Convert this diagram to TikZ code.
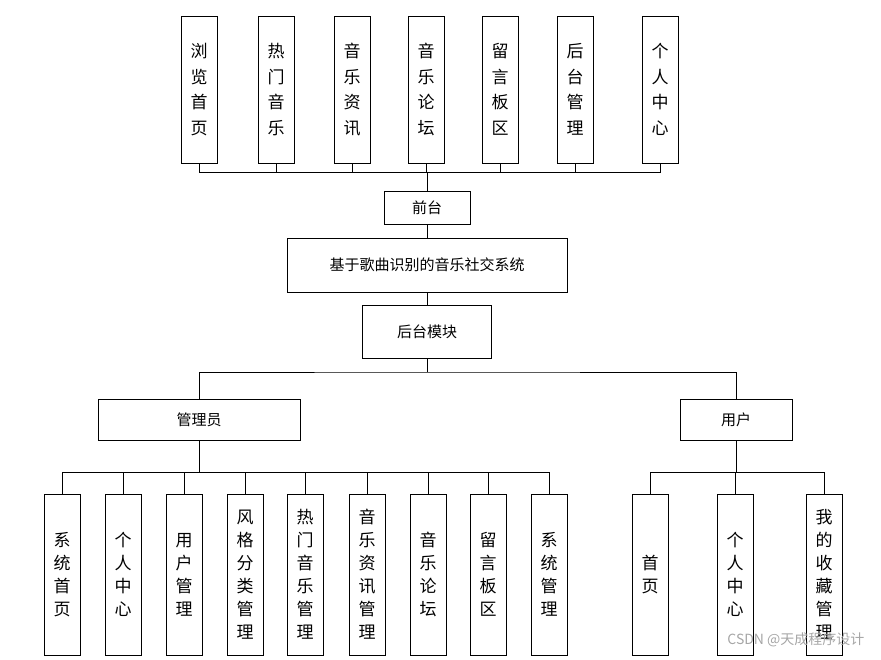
\documentclass[tikz,border=0pt]{standalone}
\usepackage{fontspec}
\setmainfont{Noto Sans CJK SC}
\begin{document}
\begin{tikzpicture}[x=1pt,y=-1pt,
  vbox/.style={draw,line width=0.8pt,minimum width=36pt,inner sep=0pt,align=center,font=\fontsize{17}{25.5}\selectfont},
  hbox/.style={draw,line width=0.8pt,inner sep=0pt,font=\fontsize{15}{17}\selectfont},
  ln/.style={line width=0.8pt}]
\useasboundingbox (0,0) rectangle (881,659);
% top
\foreach \n/\x/\t in {t1/199/浏\\览\\首\\页, t2/276/热\\门\\音\\乐, t3/352/音\\乐\\资\\讯, t4/426/音\\乐\\论\\坛, t5/500/留\\言\\板\\区, t6/575/后\\台\\管\\理, t7/660/个\\人\\中\\心}
  \node[vbox,minimum height=147pt] (\n) at (\x,89.5) {\t};
\node[hbox,minimum width=86pt,minimum height=33pt] (qt) at (427,207.5) {前台};
\node[hbox,minimum width=280pt,minimum height=54pt] (sys) at (427,265) {基于歌曲识别的音乐社交系统};
\node[hbox,minimum width=129pt,minimum height=53pt] (ht) at (427,331.5) {后台模块};
\node[hbox,minimum width=202pt,minimum height=41pt] (adm) at (199,419.5) {管理员};
\node[hbox,minimum width=112pt,minimum height=41pt] (usr) at (736,419.5) {用户};
\coordinate (tb) at (427,172);
\foreach \n in {t1,t2,t3,t4,t5,t6,t7} \draw[ln] (\n.south) |- (tb);
\draw[ln] (t1.south|-tb) -- (t7.south|-tb);
\draw[ln] (tb) -- (qt.north);
\draw[ln] (qt) -- (sys);
\draw[ln] (sys) -- (ht);
\coordinate (mb) at (427,372);
\draw[ln] (ht.south) -- (mb);
\draw[ln] (adm.north) |- (mb) -| (usr.north);
% bottom left
\foreach \n/\x/\t in {a1/62/系\\统\\首\\页, a2/123/个\\人\\中\\心, a3/184/用\\户\\管\\理, a4/245/风\\格\\分\\类\\管\\理, a5/305/热\\门\\音\\乐\\管\\理, a6/367/音\\乐\\资\\讯\\管\\理, a7/428/音\\乐\\论\\坛, a8/488/留\\言\\板\\区, a9/549/系\\统\\管\\理}
  \node[vbox,minimum height=161pt,font=\fontsize{17}{23}\selectfont] (\n) at (\x,574.5) {\t};
\coordinate (lb) at (199,472);
\draw[ln] (adm.south) -- (lb);
\draw[ln] (a1.north|-lb) -- (a9.north|-lb);
\foreach \n in {a1,a2,a3,a4,a5,a6,a7,a8,a9} \draw[ln] (\n.north) -- (\n.north|-lb);
% bottom right
\foreach \n/\x/\t in {u1/650/首\\页, u2/735/个\\人\\中\\心, u3/824/我\\的\\收\\藏\\管\\理}
  \node[vbox,minimum height=161pt,font=\fontsize{17}{23}\selectfont] (\n) at (\x,574.5) {\t};
\coordinate (rb) at (736,472);
\draw[ln] (usr.south) -- (rb);
\draw[ln] (u1.north|-rb) -- (u3.north|-rb);
\foreach \n in {u1,u2,u3} \draw[ln] (\n.north) -- (\n.north|-rb);
\node[text=gray!70,font=\fontsize{14}{16}\selectfont,anchor=east] (wm) at (868,640) {CSDN @天成程序设计};
\end{tikzpicture}
\end{document}
